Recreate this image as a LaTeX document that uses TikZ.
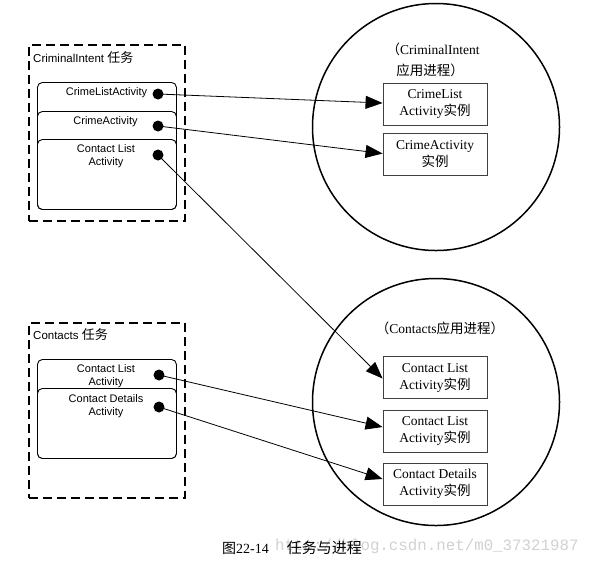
\documentclass[tikz,border=0pt]{standalone}
\usepackage{fontspec}
\setmainfont{Liberation Serif}
\setsansfont{Liberation Sans}
\setmonofont{Liberation Mono}
\newfontfamily\cjk{Noto Sans CJK SC}
\usetikzlibrary{arrows.meta}
\begin{document}
\begin{tikzpicture}[x=1pt,y=-1pt,
  taskbox/.style={draw, line width=1.8pt, dash pattern=on 9pt off 5pt, minimum width=156pt, anchor=north west, inner sep=0pt},
  actbox/.style={draw, fill=white, rounded corners=5pt, line width=0.9pt, minimum width=139pt, anchor=north west, inner sep=0pt},
  acttext/.style={font=\sffamily\fontsize{11}{13}\selectfont, align=center, inner sep=0pt},
  tasktitle/.style={font=\sffamily\fontsize{11.5}{13}\selectfont, anchor=west, inner sep=0pt},
  actdot/.style={circle, fill=black, minimum size=11pt, inner sep=0pt},
  procbox/.style={circle, draw, line width=1.5pt, minimum size=247pt, inner sep=0pt},
  inst/.style={draw=black!75, fill=white, line width=0.9pt, minimum width=104pt, minimum height=42pt, inner sep=0pt, align=center, font=\fontsize{13.5}{17}\selectfont},
  proctitle/.style={font=\fontsize{13.5}{17}\selectfont, inner sep=0pt},
  link/.style={-{Triangle[length=17pt,width=13pt]}, line width=0.8pt}
]
\useasboundingbox (0,0) rectangle (593,566);

% processes
\node[procbox] (procA) at (436,127) {};
\node[procbox] (procB) at (436,402) {};
\node[proctitle] (ptA1) at (433,49) {{\cjk （}CriminalIntent};
\node[proctitle] (ptA2) at (430,70) {{\cjk 应用进程）}};
\node[proctitle] (ptB) at (440,328) {{\cjk （}Contacts{\cjk 应用进程）}};

\node[inst] (iA) at (435,104) {CrimeList\\Activity{\cjk 实例}};
\node[inst] (iB) at (435,154.5) {CrimeActivity\\{\cjk 实例}};
\node[inst] (iC) at (435,377.5) {Contact List\\Activity{\cjk 实例}};
\node[inst] (iD) at (435,431) {Contact List\\Activity{\cjk 实例}};
\node[inst] (iE) at (435,484) {Contact Details\\Activity{\cjk 实例}};

% CriminalIntent task
\node[taskbox, minimum height=176pt] (taskA) at (28,44) {};
\node[tasktitle] (ttA) at (33,58) {CriminalIntent {\cjk\fontsize{13}{13}\selectfont 任务}};
\node[actbox, minimum height=127pt] (a1) at (37,82) {};
\node[acttext] (a1t) at (106.5,93) {CrimeListActivity};
\node[actbox, minimum height=98pt] (a2) at (37,111) {};
\node[acttext] (a2t) at (105.5,122) {CrimeActivity};
\node[actbox, minimum height=70pt] (a3) at (37,139) {};
\node[acttext] (a3t) at (106,156.5) {Contact List\\Activity};
\node[actdot] (d1) at (158,94) {};
\node[actdot] (d2) at (158,126) {};
\node[actdot] (d3) at (158,155) {};

% Contacts task
\node[taskbox, minimum height=175pt] (taskB) at (28,322) {};
\node[tasktitle] (ttB) at (33,335) {Contacts {\cjk\fontsize{13}{13}\selectfont 任务}};
\node[actbox, minimum height=99pt] (b1) at (37,359) {};
\node[acttext] (b1t) at (106,376.5) {Contact List\\Activity};
\node[actbox, minimum height=70pt] (b2) at (37,388) {};
\node[acttext] (b2t) at (106,406) {Contact Details\\Activity};
\node[actdot] (e1) at (159,375) {};
\node[actdot] (e2) at (159,407) {};

% links
\draw[link] (d1.center) -- ([yshift=1pt]iA.west);
\draw[link] (d2.center) -- ([yshift=1pt]iB.west);
\draw[link] (d3.center) -- ([yshift=-1pt]iC.west);
\draw[link] (e1.center) -- ([yshift=4pt]iD.west);
\draw[link] (e2.center) -- ([yshift=5pt]iE.west);

% caption
\node[anchor=west, inner sep=0pt, text=black!18, font=\ttfamily\fontsize{15.8}{18}\selectfont] (wm) at (275,546) {http://blog.csdn.net/m0\_37321987};
\node[anchor=west, inner sep=0pt, font=\fontsize{14}{17}\selectfont] (cap) at (222,548) {{\cjk 图}22-14\hspace{18pt}{\cjk\fontsize{15}{17}\selectfont 任务与进程}};
\end{tikzpicture}
\end{document}
